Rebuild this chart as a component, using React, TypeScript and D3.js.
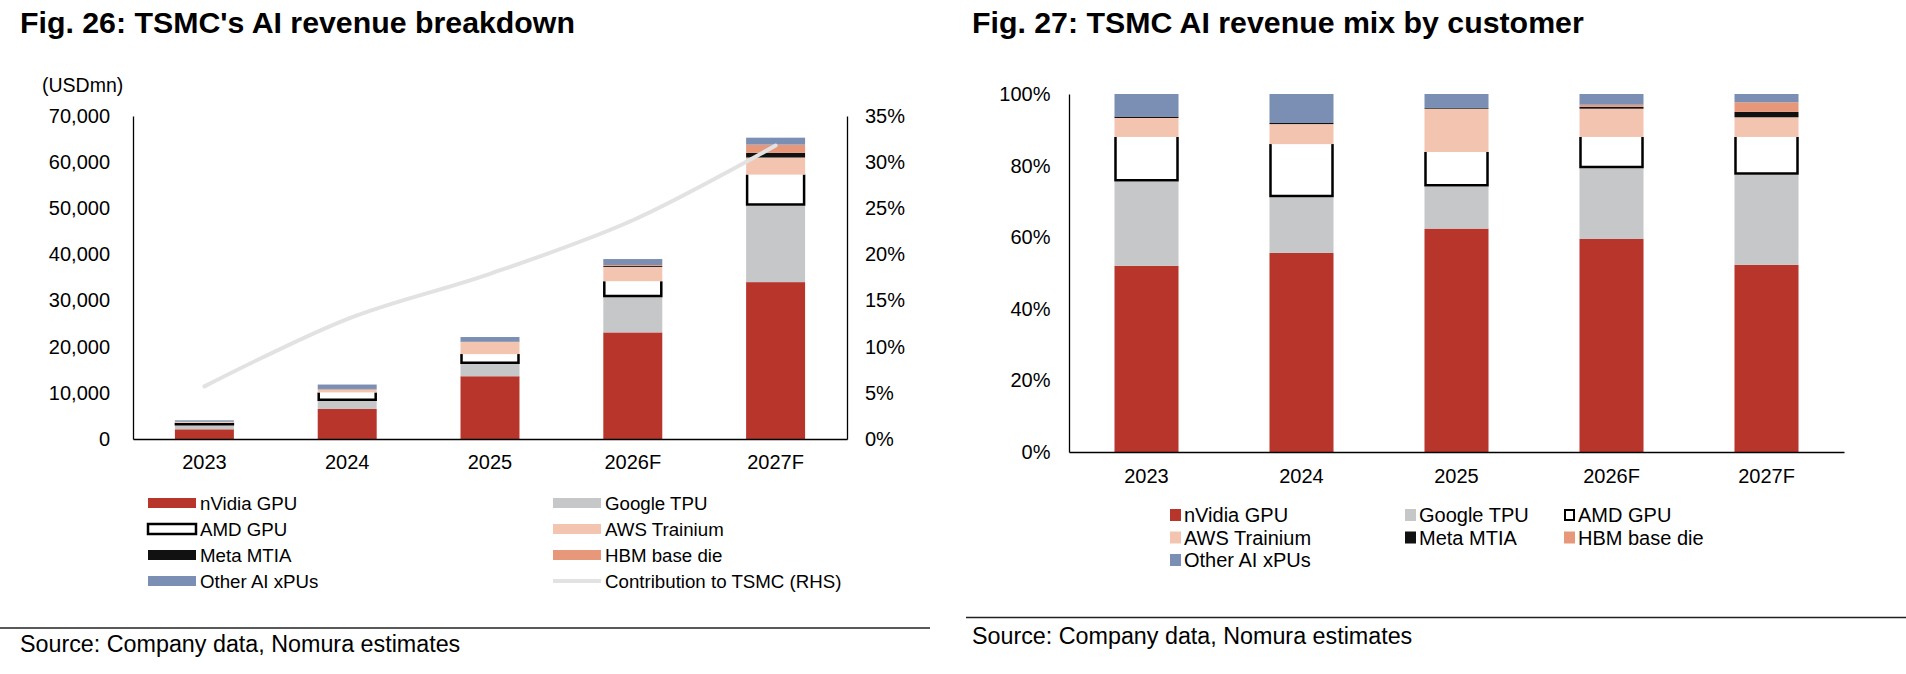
import React, { useRef, useEffect } from 'react';
import * as d3 from 'd3';

// categories shared by both charts
const categories = ['2023', '2024', '2025', '2026F', '2027F'];

const seriesNames = ['nVidia GPU', 'Google TPU', 'AMD GPU', 'AWS Trainium', 'Meta MTIA', 'HBM base die', 'Other AI xPUs'];
const seriesColors = ['#b8352b', '#c5c7c8', '#ffffff', '#f3c5b1', '#111111', '#e8987a', '#7b8fb5'];

// Fig. 26 - revenue (USDmn)
const nvidiaRev = [2100, 6500, 13600, 23100, 34000];
const googleRev = [900, 1800, 2700, 7700, 16600];
const amdRev = [500, 1800, 2100, 3400, 6700];
const awsRev = [250, 700, 2650, 3100, 3700];
const metaRev = [50, 50, 50, 200, 1000];
const hbmRev = [0, 0, 0, 200, 1800];
const otherRev = [250, 950, 1000, 1300, 1500];
const tsmcContribution = [0.057, 0.13, 0.179, 0.237, 0.318];

const leftTicks = [0, 10000, 20000, 30000, 40000, 50000, 60000, 70000];
const rightTicks = [0, 0.05, 0.1, 0.15, 0.2, 0.25, 0.3, 0.35];

// Fig. 27 - mix by customer (%)
const nvidiaShare = [52.0, 55.6, 62.4, 59.5, 52.3];
const googleShare = [23.6, 15.6, 11.8, 19.8, 25.2];
const amdShare = [12.4, 14.8, 9.6, 8.7, 10.5];
const awsShare = [5.3, 5.6, 12.1, 7.9, 5.5];
const metaShare = [0.4, 0.3, 0.2, 0.5, 1.5];
const hbmShare = [0, 0, 0, 0.6, 2.7];
const otherShare = [6.3, 8.1, 3.9, 3.0, 2.3];
const shareTicks = [0, 20, 40, 60, 80, 100];

const FONT = "'Liberation Sans', Arial, Helvetica, sans-serif";

const buildRows = (cols: number[][]) =>
    categories.map((c, i) => {
        const row: any = { cat: c };
        seriesNames.forEach((s, k) => { row[s] = cols[k][i]; });
        return row;
    });

// draws stacked bars; AMD drawn as open-top black box like Excel shows it
const drawStack = (g: any, x: any, y: any, rows: any[]) => {
    const stacked = d3.stack().keys(seriesNames)(rows);
    stacked.forEach((layer: any, k: number) => {
        const name = seriesNames[k];
        const grp = g.append('g');
        layer.forEach((d: any) => {
            const x0 = x(d.data.cat) as number;
            const w = x.bandwidth();
            const yt = y(d[1]);
            const yb = y(d[0]);
            if (d[1] - d[0] <= 0) return;
            grp.append('rect')
                .attr('x', x0)
                .attr('y', yt)
                .attr('width', w)
                .attr('height', Math.max(yb - yt, 0))
                .attr('fill', seriesColors[k]);
            if (name === 'AMD GPU') {
                grp.append('path')
                    .attr('d', `M${x0 + 1},${yt} V${yb - 1} H${x0 + w - 1} V${yt}`)
                    .attr('fill', 'none')
                    .attr('stroke', '#000')
                    .attr('stroke-width', 2.5);
            }
        });
    });
};

const styleAxis = (g: any, size: number) => {
    g.attr('font-family', FONT).attr('font-size', size);
    g.select('.domain').attr('stroke', '#000').attr('stroke-width', 1.3);
    g.selectAll('text').attr('fill', '#000');
};

const App: React.FC = () => {
    const svgRef = useRef<SVGSVGElement | null>(null);

    useEffect(() => {
        if (!svgRef.current) return;
        const svg = d3.select(svgRef.current);
        svg.selectAll('*').remove();
        svg.attr('font-family', FONT);

        // titles
        svg.append('text').attr('x', 20).attr('y', 33)
            .attr('font-size', 30.3).attr('font-weight', 'bold').attr('fill', '#000')
            .text("Fig. 26: TSMC's AI revenue breakdown");
        svg.append('text').attr('x', 972).attr('y', 33)
            .attr('font-size', 30.3).attr('font-weight', 'bold').attr('fill', '#000')
            .text('Fig. 27: TSMC AI revenue mix by customer');

        // ---------- left chart ----------
        const xL = d3.scaleBand().domain(categories).range([133, 847]).paddingInner(0.587).paddingOuter(0.2935);
        const yL = d3.scaleLinear().domain([0, 70000]).range([439, 116]);
        const yR = d3.scaleLinear().domain([0, 0.35]).range([439, 116]);

        const left = svg.append('g');
        drawStack(left, xL, yL, buildRows([nvidiaRev, googleRev, amdRev, awsRev, metaRev, hbmRev, otherRev]));

        const line = d3.line<number>()
            .x((d, i) => (xL(categories[i]) as number) + xL.bandwidth() / 2)
            .y(d => yR(d))
            .curve(d3.curveCatmullRom.alpha(0.5));
        left.append('path')
            .attr('d', line(tsmcContribution))
            .attr('fill', 'none')
            .attr('stroke', '#e2e2e2')
            .attr('stroke-width', 4)
            .attr('stroke-linecap', 'round');

        const axL = left.append('g').attr('transform', 'translate(133,0)')
            .call(d3.axisLeft(yL).tickValues(leftTicks).tickSize(0).tickPadding(23).tickFormat(d3.format(',')));
        styleAxis(axL, 20);
        const axR = left.append('g').attr('transform', 'translate(847,0)')
            .call(d3.axisRight(yR).tickValues(rightTicks).tickSize(0).tickPadding(18).tickFormat(d3.format('.0%')));
        styleAxis(axR, 20);
        const axB = left.append('g').attr('transform', 'translate(0,439)')
            .call(d3.axisBottom(xL).tickSize(0).tickSizeOuter(0).tickPadding(16));
        styleAxis(axB, 20);

        left.append('text').attr('x', 42).attr('y', 92).attr('font-size', 19.5).attr('fill', '#000').text('(USDmn)');

        // legend
        const legendL = [
            { name: 'nVidia GPU', col: 0, row: 0 },
            { name: 'Google TPU', col: 1, row: 0 },
            { name: 'AMD GPU', col: 0, row: 1 },
            { name: 'AWS Trainium', col: 1, row: 1 },
            { name: 'Meta MTIA', col: 0, row: 2 },
            { name: 'HBM base die', col: 1, row: 2 },
            { name: 'Other AI xPUs', col: 0, row: 3 },
            { name: 'Contribution to TSMC (RHS)', col: 1, row: 3 },
        ];
        const colX = [148, 553];
        const rowY = [503, 529, 555, 581];
        legendL.forEach(item => {
            const lx = colX[item.col];
            const ly = rowY[item.row];
            const k = seriesNames.indexOf(item.name);
            if (k >= 0) {
                left.append('rect').attr('x', lx).attr('y', ly - 5).attr('width', 48).attr('height', 10)
                    .attr('fill', seriesColors[k])
                    .attr('stroke', item.name === 'AMD GPU' ? '#000' : 'none')
                    .attr('stroke-width', 2.5);
            } else {
                left.append('line').attr('x1', lx).attr('x2', lx + 48).attr('y1', ly).attr('y2', ly)
                    .attr('stroke', '#e2e2e2').attr('stroke-width', 4);
            }
            left.append('text').attr('x', lx + 52).attr('y', ly).attr('dy', '0.35em')
                .attr('font-size', 18.7).attr('fill', '#000').text(item.name);
        });

        // ---------- right chart ----------
        const xM = d3.scaleBand().domain(categories).range([1069, 1844]).paddingInner(0.587).paddingOuter(0.2935);
        const yM = d3.scaleLinear().domain([0, 100]).range([452, 94]);

        const right = svg.append('g');
        drawStack(right, xM, yM, buildRows([nvidiaShare, googleShare, amdShare, awsShare, metaShare, hbmShare, otherShare]));

        const axM = right.append('g').attr('transform', 'translate(1069,0)')
            .call(d3.axisLeft(yM).tickValues(shareTicks).tickSize(0).tickPadding(18.5).tickFormat(d => `${d}%`));
        styleAxis(axM, 20);
        const axMB = right.append('g').attr('transform', 'translate(0,452)')
            .call(d3.axisBottom(xM).tickSize(0).tickSizeOuter(0).tickPadding(17));
        styleAxis(axMB, 20);

        const legendR = [
            { name: 'nVidia GPU', col: 0, row: 0 },
            { name: 'Google TPU', col: 1, row: 0 },
            { name: 'AMD GPU', col: 2, row: 0 },
            { name: 'AWS Trainium', col: 0, row: 1 },
            { name: 'Meta MTIA', col: 1, row: 1 },
            { name: 'HBM base die', col: 2, row: 1 },
            { name: 'Other AI xPUs', col: 0, row: 2 },
        ];
        const colXR = [1170, 1405, 1564];
        const rowYR = [515, 537.5, 560];
        legendR.forEach(item => {
            const lx = colXR[item.col];
            const ly = rowYR[item.row];
            const k = seriesNames.indexOf(item.name);
            const isAmd = item.name === 'AMD GPU';
            right.append('rect')
                .attr('x', isAmd ? lx + 1 : lx).attr('y', isAmd ? ly - 5 : ly - 6)
                .attr('width', isAmd ? 9 : 11).attr('height', isAmd ? 10 : 12)
                .attr('fill', seriesColors[k])
                .attr('stroke', isAmd ? '#000' : 'none')
                .attr('stroke-width', 2);
            right.append('text').attr('x', lx + 14).attr('y', ly).attr('dy', '0.35em')
                .attr('font-size', 20).attr('fill', '#000').text(item.name);
        });

        // source lines
        svg.append('line').attr('x1', 0).attr('x2', 930).attr('y1', 628).attr('y2', 628)
            .attr('stroke', '#222').attr('stroke-width', 1.5);
        svg.append('text').attr('x', 20).attr('y', 652).attr('font-size', 23.3).attr('fill', '#000')
            .text('Source: Company data, Nomura estimates');
        svg.append('line').attr('x1', 966).attr('x2', 1906).attr('y1', 617.5).attr('y2', 617.5)
            .attr('stroke', '#222').attr('stroke-width', 1.5);
        svg.append('text').attr('x', 972).attr('y', 644).attr('font-size', 23.3).attr('fill', '#000')
            .text('Source: Company data, Nomura estimates');
    }, []);

    return (
        <svg ref={svgRef} width={1906} height={674}
            style={{ position: 'absolute', left: 0, top: 0, background: '#fff' }} />
    );
};

export default App;
